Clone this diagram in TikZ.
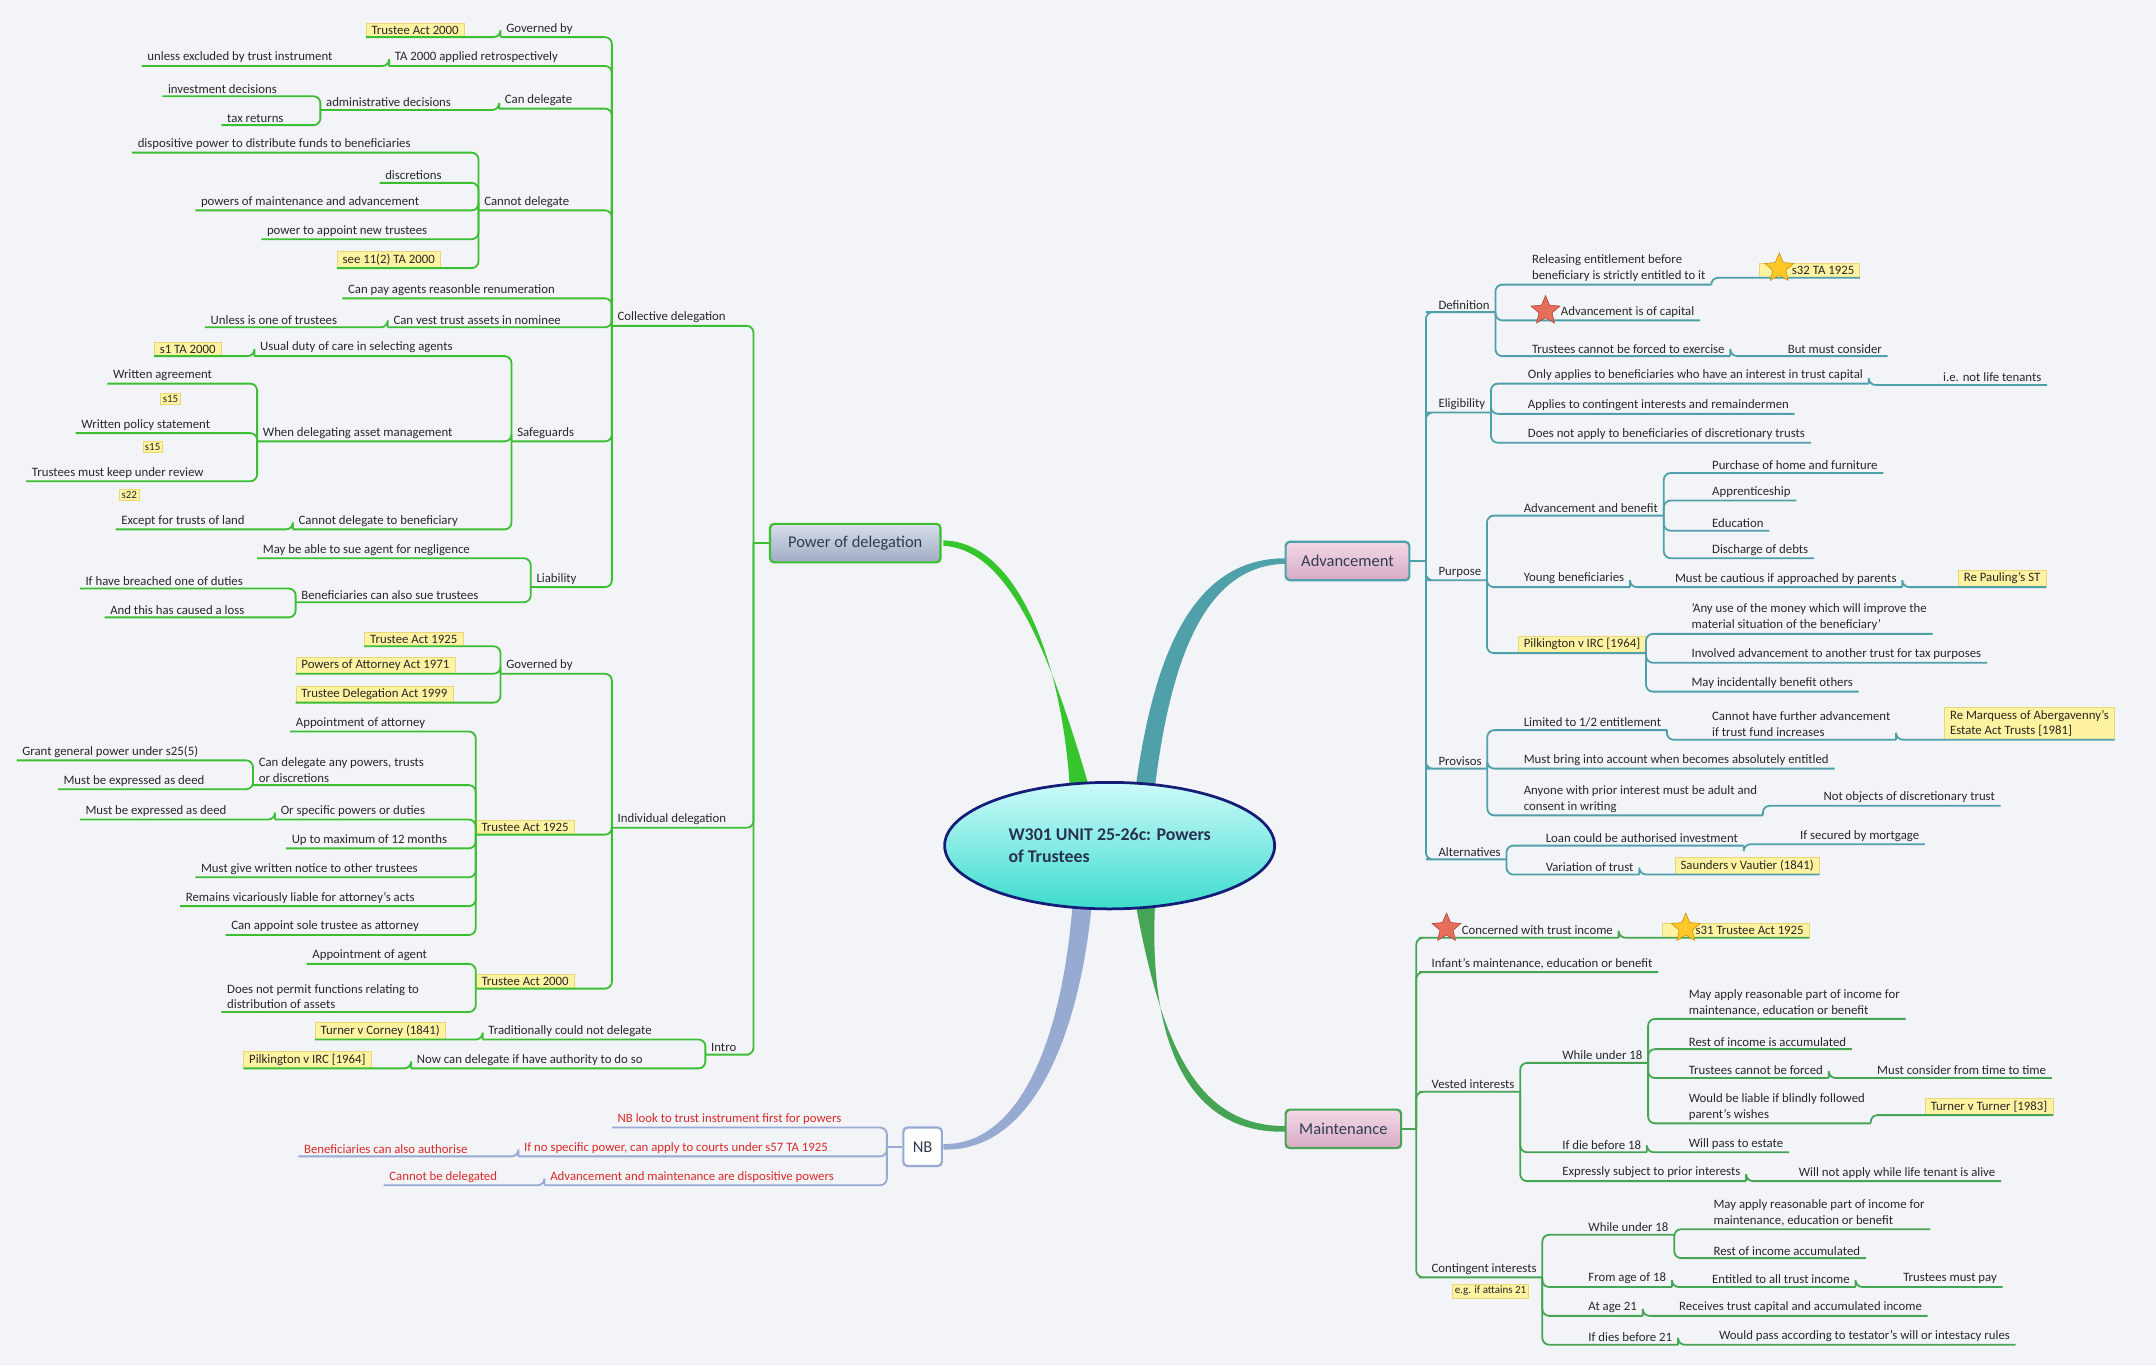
\documentclass[tikz,border=0pt]{standalone}
\usepackage{fontspec}
\setmainfont{Carlito}
\usetikzlibrary{shapes.geometric}
\definecolor{bg}{RGB}{242,244,248}
\definecolor{dg}{RGB}{60,190,50}
\definecolor{tl}{RGB}{80,160,170}
\definecolor{mg}{RGB}{70,165,85}
\definecolor{nbc}{RGB}{150,170,210}
\definecolor{hlc}{RGB}{255,242,160}
\definecolor{hlb}{RGB}{235,215,120}
\definecolor{tx}{RGB}{40,40,40}
\definecolor{rd}{RGB}{220,40,40}
\definecolor{navy}{RGB}{20,30,120}
\tikzset{
 lf/.style={font=\fontsize{9.3}{11.5}\selectfont, text=tx, inner xsep=4pt, inner ysep=2pt, align=left},
 hl/.style={fill=hlc, draw=hlb, line width=0.4pt},
 nbt/.style={text=rd},
 sm/.style={font=\fontsize{8}{9}\selectfont, fill=hlc, draw=hlb, line width=0.4pt, inner sep=1.5pt, text=tx},
 cn/.style={line width=1.3pt, rounded corners=5pt},
 topic/.style={rounded corners=3pt, line width=1.6pt, minimum height=28pt, font=\fontsize{12}{14}\selectfont, text={rgb,255:red,50;green,60;blue,80}},
 gstar/.style={star, star points=5, star point ratio=2.2, minimum size=22pt, inner sep=0pt, fill={rgb,255:red,255;green,200;blue,40}, draw={rgb,255:red,200;green,140;blue,0}},
 rstar/.style={star, star points=5, star point ratio=2.2, minimum size=22pt, inner sep=0pt, fill={rgb,255:red,230;green,110;blue,90}, draw={rgb,255:red,170;green,60;blue,50}},
}
\newcommand\nd[5][]{\node[lf,anchor=south west,#1] (#2) at (#3-4,#4+7) {#5};}
\newcommand\lk[2]{\draw[cn] (#1.south west) -- (#1.south east) -| (#2.south west);}
\newcommand\rk[2]{\draw[cn] (#1.south east) |- (#2.south west) -- (#2.south east);}
\begin{document}
\begin{tikzpicture}[x=1pt,y=-1pt]
\fill[bg] (0,0) rectangle (1568,993);
\useasboundingbox (0,0) rectangle (1568,993);
% branches
\fill[dg!90!green] (778,572) .. controls (772,480) and (740,394) .. (686,393) -- (686,397) .. controls (735,399) and (765,480) .. (792,572) -- cycle;
\fill[tl] (826,572) .. controls (840,470) and (870,406) .. (935,406) -- (935,410) .. controls (878,411) and (852,475) .. (840,572) -- cycle;
\fill[nbc] (780,658) .. controls (772,760) and (740,833) .. (686,832) -- (686,836) .. controls (748,838) and (784,760) .. (794,658) -- cycle;
\fill[mg] (826,658) .. controls (845,760) and (870,819) .. (935,819) -- (935,823) .. controls (868,825) and (835,765) .. (840,658) -- cycle;
% center
\node[ellipse, minimum width=240pt, minimum height=92pt, draw=navy, line width=2pt, top color={rgb,255:red,205;green,250;blue,250}, bottom color={rgb,255:red,60;green,220;blue,205}, font=\bfseries\fontsize{13}{16}\selectfont, text={rgb,255:red,40;green,50;blue,80}, align=left] (c) at (807,615) {W301 UNIT 25-26c: Powers\\of Trustees};
% topics
\node[topic, minimum width=124pt, draw=dg, top color={rgb,255:red,215;green,222;blue,235}, bottom color={rgb,255:red,160;green,172;blue,195}] (pod) at (622,395) {Power of delegation};
\node[topic, minimum width=90pt, draw=tl, top color={rgb,255:red,242;green,218;blue,232}, bottom color={rgb,255:red,215;green,170;blue,195}] (adv) at (980,408) {Advancement};
\node[topic, minimum width=84pt, draw=mg, top color={rgb,255:red,242;green,218;blue,232}, bottom color={rgb,255:red,215;green,170;blue,195}] (mnt) at (977,821) {Maintenance};
\node[topic, minimum width=28pt, draw=nbc, fill=white] (nb) at (671,834) {NB};
\coordinate (podb) at (548,395);
\coordinate (advb) at (1037,408);
\coordinate (mntb) at (1030,821);
\coordinate (nbb) at (645,834);
% ---------- Power of delegation
\begin{scope}[dg]
\nd{cd}{449}{230}{Collective delegation}
\nd{gb1}{368}{20}{Governed by}
\nd[hl]{ta2000a}{270}{20}{Trustee Act 2000}
\nd{ret}{287}{41}{TA 2000 applied retrospectively}
\nd{unl}{107}{41}{unless excluded by trust instrument}
\nd{cand}{367}{72}{Can delegate}
\nd{adm}{237}{73}{administrative decisions}
\nd{inv}{122}{63}{investment decisions}
\nd{tax}{165}{84}{tax returns}
\nd{cnd}{352}{146}{Cannot delegate}
\nd{disp}{100}{104}{dispositive power to distribute funds to beneficiaries}
\nd{disc}{280}{126}{discretions}
\nd{pma}{146}{146}{powers of maintenance and advancement}
\nd{pant}{194}{167}{power to appoint new trustees}
\nd[hl]{see}{249}{188}{see 11(2) TA 2000}
\nd{pay}{253}{210}{Can pay agents reasonble renumeration}
\nd{vest}{286}{231}{Can vest trust assets in nominee}
\nd{unl2}{153}{231}{Unless is one of trustees}
\nd{safe}{376}{314}{Safeguards}
\nd{usual}{189}{252}{Usual duty of care in selecting agents}
\nd[hl]{s1}{116}{252}{s1 TA 2000}
\nd{wdam}{191}{314}{When delegating asset management}
\nd{wa}{82}{272}{Written agreement}
\nd{wps}{59}{308}{Written policy statement}
\nd{tmk}{23}{343}{Trustees must keep under review}
\nd{cdb}{217}{378}{Cannot delegate to beneficiary}
\nd{eft}{88}{378}{Except for trusts of land}
\nd{liab}{390}{420}{Liability}
\nd{sue}{191}{399}{May be able to sue agent for negligence}
\nd{bst}{219}{431}{Beneficiaries can also sue trustees}
\nd{hb}{62}{421}{If have breached one of duties}
\nd{atc}{80}{442}{And this has caused a loss}
\lk{cd}{podb}
\lk{gb1}{cd}\lk{ta2000a}{gb1}
\lk{ret}{cd}\lk{unl}{ret}
\lk{cand}{cd}\lk{adm}{cand}\lk{inv}{adm}\lk{tax}{adm}
\lk{cnd}{cd}\lk{disp}{cnd}\lk{disc}{cnd}\lk{pma}{cnd}\lk{pant}{cnd}\lk{see}{cnd}
\lk{pay}{cd}
\lk{vest}{cd}\lk{unl2}{vest}
\lk{safe}{cd}\lk{usual}{safe}\lk{s1}{usual}
\lk{wdam}{safe}\lk{wa}{wdam}\lk{wps}{wdam}\lk{tmk}{wdam}
\lk{cdb}{safe}\lk{eft}{cdb}
\lk{liab}{cd}\lk{sue}{liab}\lk{bst}{liab}\lk{hb}{bst}\lk{atc}{bst}
\node[sm] (l1) at (124,290) {s15};
\node[sm] (l2) at (111,325) {s15};
\node[sm] (l3) at (94,360) {s22};
% individual
\nd{id}{449}{595}{Individual delegation}
\nd{gb2}{368}{483}{Governed by}
\nd[hl]{t25a}{269}{463}{Trustee Act 1925}
\nd[hl]{poa}{219}{483}{Powers of Attorney Act 1971}
\nd[hl]{tda}{219}{504}{Trustee Delegation Act 1999}
\nd[hl]{t25b}{350}{600}{Trustee Act 1925}
\nd{apa}{215}{525}{Appointment of attorney}
\nd{cda}{188}{564}{Can delegate any powers, trusts\\or discretions}
\nd{ggp}{16}{546}{Grant general power under s25(5)}
\nd{med1}{46}{567}{Must be expressed as deed}
\nd{osp}{204}{589}{Or specific powers or duties}
\nd{med2}{62}{589}{Must be expressed as deed}
\nd{um}{212}{610}{Up to maximum of 12 months}
\nd{mgw}{146}{631}{Must give written notice to other trustees}
\nd{rvl}{135}{652}{Remains vicariously liable for attorney's acts}
\nd{cas}{168}{673}{Can appoint sole trustee as attorney}
\nd[hl]{t20b}{350}{712}{Trustee Act 2000}
\nd{apag}{227}{694}{Appointment of agent}
\nd{dnp}{165}{729}{Does not permit functions relating to\\distribution of assets}
\nd{intro}{517}{760}{Intro}
\nd{tcn}{355}{749}{Traditionally could not delegate}
\nd[hl]{tvc}{233}{749}{Turner v Corney (1841)}
\nd{ncd}{303}{770}{Now can delegate if have authority to do so}
\nd[hl]{pil1}{181}{770}{Pilkington v IRC [1964]}
\lk{id}{podb}
\lk{gb2}{id}\lk{t25a}{gb2}\lk{poa}{gb2}\lk{tda}{gb2}
\lk{t25b}{id}\lk{apa}{t25b}\lk{cda}{t25b}\lk{ggp}{cda}\lk{med1}{cda}
\lk{osp}{t25b}\lk{med2}{osp}\lk{um}{t25b}\lk{mgw}{t25b}\lk{rvl}{t25b}\lk{cas}{t25b}
\lk{t20b}{id}\lk{apag}{t20b}\lk{dnp}{t20b}
\lk{intro}{podb}\lk{tcn}{intro}\lk{tvc}{tcn}\lk{ncd}{intro}\lk{pil1}{ncd}
\draw[cn] (podb) -- (pod.west);
\end{scope}
% ---------- NB
\begin{scope}[nbc]
\nd[nbt]{nb1}{449}{813}{NB look to trust instrument first for powers}
\nd[nbt]{nb2}{381}{834}{If no specific power, can apply to courts under s57 TA 1925}
\nd[nbt]{nb2a}{221}{834}{Beneficiaries can also authorise}
\nd[nbt]{nb3}{400}{855}{Advancement and maintenance are dispositive powers}
\nd[nbt]{nb3a}{283}{855}{Cannot be delegated}
\lk{nb1}{nbb}\lk{nb2}{nbb}\lk{nb3}{nbb}\lk{nb2a}{nb2}\lk{nb3a}{nb3}
\draw[cn] (nbb) -- (nb.west);
\end{scope}
% ---------- Advancement
\begin{scope}[tl]
\draw[cn] (adv.east) -- (advb);
\nd{def}{1046}{220}{Definition}
\nd{rel}{1114}{200}{Releasing entitlement before\\beneficiary is strictly entitled to it}
\nd[hl]{s32}{1283}{195}{\hspace{20pt}s32 TA 1925}
\nd{aic}{1113}{226}{\hspace{22pt}Advancement is of capital}
\nd{tcf}{1114}{252}{Trustees cannot be forced to exercise}
\nd{bmc}{1300}{252}{But must consider}
\nd{elig}{1046}{293}{Eligibility}
\nd{oa}{1111}{272}{Only applies to beneficiaries who have an interest in trust capital}
\nd{inlt}{1413}{273}{i.e. not life tenants}
\nd{actr}{1111}{294}{Applies to contingent interests and remaindermen}
\nd{dna}{1111}{315}{Does not apply to beneficiaries of discretionary trusts}
\nd{purp}{1046}{415}{Purpose}
\nd{aab}{1108}{368}{Advancement and benefit}
\nd{phf}{1245}{337}{Purchase of home and furniture}
\nd{app}{1245}{357}{Apprenticeship}
\nd{edu}{1245}{379}{Education}
\nd{dod}{1245}{399}{Discharge of debts}
\nd{yb}{1108}{420}{Young beneficiaries}
\nd{mbc}{1218}{420}{Must be cautious if approached by parents}
\nd[hl]{rps}{1428}{420}{Re Pauling's ST}
\nd[hl]{pil2}{1108}{468}{Pilkington v IRC [1964]}
\nd{anyu}{1230}{454}{'Any use of the money which will improve the\\material situation of the beneficiary'}
\nd{iat}{1230}{475}{Involved advancement to another trust for tax purposes}
\nd{mib}{1230}{496}{May incidentally benefit others}
\nd{prov}{1046}{552}{Provisos}
\nd{lim}{1108}{524}{Limited to 1/2 entitlement}
\nd{chf}{1245}{531}{Cannot have further advancement\\if trust fund increases}
\nd[hl]{rma}{1418}{531}{Re Marquess of Abergavenny's\\Estate Act Trusts [1981]}
\nd{mbi}{1108}{552}{Must bring into account when becomes absolutely entitled}
\nd{awp}{1108}{586}{Anyone with prior interest must be adult and\\consent in writing}
\nd{nod}{1326}{579}{Not objects of discretionary trust}
\nd{alt}{1046}{618}{Alternatives}
\nd{lca}{1124}{608}{Loan could be authorised investment}
\nd{ism}{1309}{607}{If secured by mortgage}
\nd{vot}{1124}{629}{Variation of trust}
\nd[hl]{svv}{1222}{629}{Saunders v Vautier (1841)}
\rk{advb}{def}\rk{def}{rel}\rk{rel}{s32}\rk{def}{aic}\rk{def}{tcf}\rk{tcf}{bmc}
\rk{advb}{elig}\rk{elig}{oa}\rk{oa}{inlt}\rk{elig}{actr}\rk{elig}{dna}
\rk{advb}{purp}\rk{purp}{aab}\rk{aab}{phf}\rk{aab}{app}\rk{aab}{edu}\rk{aab}{dod}
\rk{purp}{yb}\rk{yb}{mbc}\rk{mbc}{rps}
\rk{purp}{pil2}\rk{pil2}{anyu}\rk{pil2}{iat}\rk{pil2}{mib}
\rk{advb}{prov}\rk{prov}{lim}\rk{lim}{chf}\rk{chf}{rma}\rk{prov}{mbi}\rk{prov}{awp}\rk{awp}{nod}
\rk{advb}{alt}\rk{alt}{lca}\rk{lca}{ism}\rk{alt}{vot}\rk{vot}{svv}
\node[gstar] (st1) at (1294,195) {};
\node[rstar] (st2) at (1124,226) {};
\end{scope}
% ---------- Maintenance
\begin{scope}[mg]
\draw[cn] (mnt.east) -- (mntb);
\nd{cwt}{1041}{675}{\hspace{22pt}Concerned with trust income}
\nd[hl]{s31}{1213}{675}{\hspace{20pt}s31 Trustee Act 1925}
\nd{inf}{1041}{700}{Infant's maintenance, education or benefit}
\nd{vi}{1041}{787}{Vested interests}
\nd{wu1}{1136}{766}{While under 18}
\nd{mar1}{1228}{734}{May apply reasonable part of income for\\maintenance, education or benefit}
\nd{roi}{1228}{756}{Rest of income is accumulated}
\nd{tcbf}{1228}{777}{Trustees cannot be forced}
\nd{mcf}{1365}{777}{Must consider from time to time}
\nd{wbl}{1228}{810}{Would be liable if blindly followed\\parent's wishes}
\nd[hl]{tvt}{1404}{804}{Turner v Turner [1983]}
\nd{idb}{1136}{831}{If die before 18}
\nd{wpe}{1228}{831}{Will pass to estate}
\nd{esp}{1136}{852}{Expressly subject to prior interests}
\nd{wna}{1308}{852}{Will not apply while life tenant is alive}
\nd{ci}{1041}{922}{Contingent interests}
\nd{wu2}{1155}{891}{While under 18}
\nd{mar2}{1246}{887}{May apply reasonable part of income for\\maintenance, education or benefit}
\nd{ria}{1246}{908}{Rest of income accumulated}
\nd{fa18}{1155}{929}{From age of 18}
\nd{eti}{1245}{929}{Entitled to all trust income}
\nd{tmp}{1384}{929}{Trustees must pay}
\nd{aa21}{1155}{950}{At age 21}
\nd{rtc}{1221}{950}{Receives trust capital and accumulated income}
\nd{idb21}{1155}{971}{If dies before 21}
\nd{wpa}{1250}{971}{Would pass according to testator's will or intestacy rules}
\rk{mntb}{cwt}\rk{cwt}{s31}\rk{mntb}{inf}
\rk{mntb}{vi}\rk{vi}{wu1}\rk{wu1}{mar1}\rk{wu1}{roi}\rk{wu1}{tcbf}\rk{tcbf}{mcf}\rk{wu1}{wbl}\rk{wbl}{tvt}
\rk{vi}{idb}\rk{idb}{wpe}\rk{vi}{esp}\rk{esp}{wna}
\rk{mntb}{ci}\rk{ci}{wu2}\rk{wu2}{mar2}\rk{wu2}{ria}\rk{ci}{fa18}\rk{fa18}{eti}\rk{eti}{tmp}
\rk{ci}{aa21}\rk{aa21}{rtc}\rk{ci}{idb21}\rk{idb21}{wpa}
\node[sm] (l4) at (1084,939) {e.g. if attains 21};
\node[rstar] (st3) at (1052,675) {};
\node[gstar] (st4) at (1226,675) {};
\end{scope}
\end{tikzpicture}
\end{document}
